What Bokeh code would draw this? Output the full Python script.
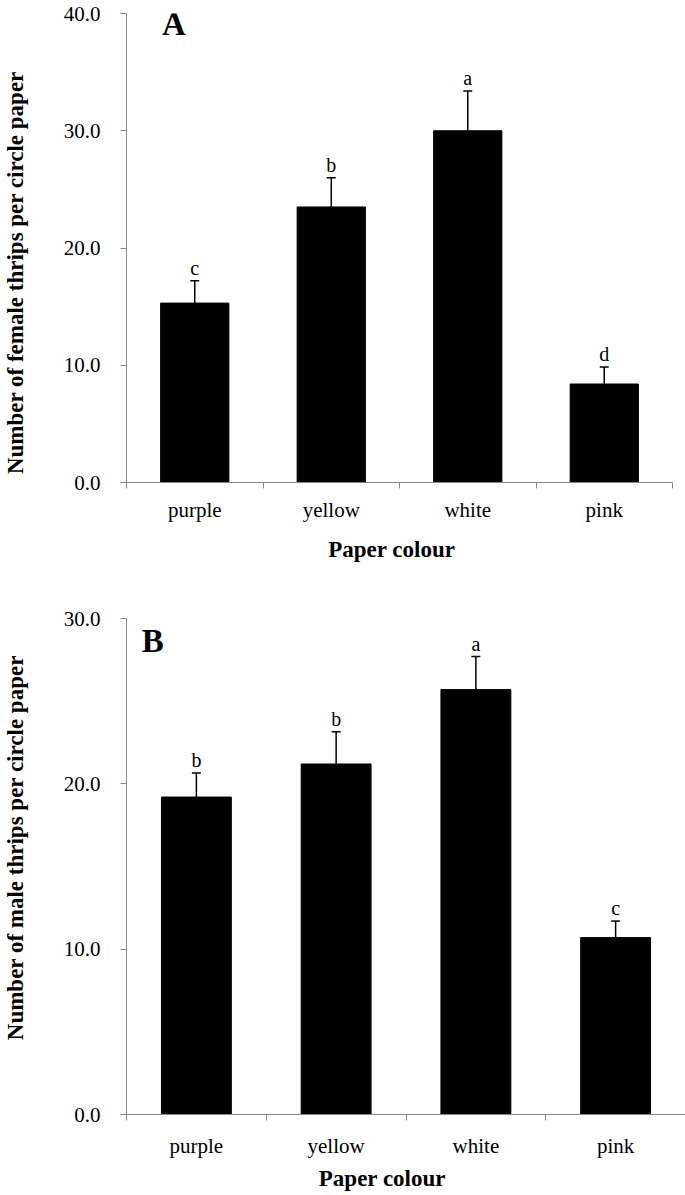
import numpy as np
from bokeh.plotting import figure
from bokeh.models import (Range1d, FixedTicker, NumeralTickFormatter, Whisker,
                          TeeHead, ColumnDataSource, Label, Title, LinearAxis)
from bokeh.layouts import column
from bokeh.core.properties import value
from bokeh.embed import file_html
from bokeh.resources import INLINE

# ---- data ----
categories = ["purple", "yellow", "white", "pink"]

female_means = [15.3, 23.5, 30.0, 8.4]
female_se = [1.9, 2.5, 3.4, 1.45]
female_letters = ["c", "b", "a", "d"]

male_means = [19.2, 21.2, 25.7, 10.7]
male_se = [1.45, 1.95, 2.0, 1.0]
male_letters = ["b", "b", "a", "c"]

female_yticks = [0, 10, 20, 30, 40]
male_yticks = [0, 10, 20, 30]

SERIF = "Liberation Serif"
AXIS_GREY = "#868686"


def spacer_axis(size, tick_at):
    """Invisible axis used only to open a gap between an axis and its title."""
    ax = LinearAxis(ticker=FixedTicker(ticks=[tick_at], minor_ticks=[]))
    ax.major_label_overrides = {tick_at: ""}
    ax.major_label_text_font_size = "1px"
    ax.axis_line_color = None
    ax.major_tick_line_color = None
    ax.minor_tick_line_color = None
    ax.major_tick_out = size
    ax.major_tick_in = 0
    ax.minor_tick_out = 0
    ax.minor_tick_in = 0
    ax.major_label_standoff = 0
    return ax


def make_panel(means, se, letters, yticks, ylabel, panel_letter,
               frame_w, frame_h, border_top, border_bottom, border_right,
               xlabel_standoff, ylabel_offset, xlabel_offset, xgap, ygap,
               panel_pos):
    n = len(categories)
    xs = np.arange(n) + 0.5
    upper = [m + s for m, s in zip(means, se)]
    src = ColumnDataSource(dict(x=xs, top=means, upper=upper, letter=letters))

    p = figure(output_backend="svg", toolbar_location=None,
               x_range=Range1d(0, n), y_range=Range1d(0, yticks[-1]),
               frame_width=frame_w, frame_height=frame_h,
               min_border_left=124, min_border_right=border_right,
               min_border_top=border_top, min_border_bottom=border_bottom)
    p.outline_line_color = None
    p.xgrid.visible = False
    p.ygrid.visible = False

    p.vbar(x="x", top="top", bottom=0, width=0.5, source=src,
           fill_color="black", line_color="black")

    wh = Whisker(source=src, base="x", lower="top", upper="upper",
                 line_color="black", line_width=1.5,
                 upper_head=TeeHead(size=9, line_color="black", line_width=1.5),
                 lower_head=None)
    p.add_layout(wh)

    p.text(x="x", y="upper", text="letter", source=src, y_offset=-2,
           text_align="center", text_baseline="bottom",
           text_font=value(SERIF), text_font_size="20px", text_color="black")

    # x axis: labels at bar centres, ticks at category boundaries
    xa = p.xaxis[0]
    xa.ticker = FixedTicker(ticks=list(xs), minor_ticks=list(range(n + 1)))
    xa.major_label_overrides = {float(x): c for x, c in zip(xs, categories)}
    xa.major_tick_line_color = None
    xa.major_tick_out = 0
    xa.major_tick_in = 0
    xa.minor_tick_line_color = AXIS_GREY
    xa.minor_tick_out = 6
    xa.minor_tick_in = 0
    xa.axis_line_color = AXIS_GREY
    xa.major_label_text_font = SERIF
    xa.major_label_text_font_size = "21px"
    xa.major_label_text_color = "black"
    xa.major_label_standoff = xlabel_standoff

    ya = p.yaxis[0]
    ya.ticker = FixedTicker(ticks=yticks, minor_ticks=[])
    ya.formatter = NumeralTickFormatter(format="0.0")
    ya.axis_line_color = AXIS_GREY
    ya.major_tick_line_color = AXIS_GREY
    ya.major_tick_out = 6
    ya.major_tick_in = 0
    ya.minor_tick_line_color = None
    ya.major_label_text_font = SERIF
    ya.major_label_text_font_size = "21px"
    ya.major_label_text_color = "black"
    ya.major_label_standoff = 20

    # y-axis title (outside the tick labels, shifted along the axis)
    p.add_layout(spacer_axis(ygap, float(yticks[0])), "left")
    p.add_layout(Title(text=ylabel, align="left", offset=ylabel_offset,
                       vertical_align="bottom", standoff=0,
                       text_font=SERIF, text_font_style="bold",
                       text_font_size="23px", text_color="black"), "left")

    # x-axis title
    p.add_layout(spacer_axis(xgap, 0.0), "below")
    p.add_layout(Title(text="Paper colour", align="left", offset=xlabel_offset,
                       vertical_align="top", standoff=0,
                       text_font=SERIF, text_font_style="bold",
                       text_font_size="23px", text_color="black"), "below")

    p.add_layout(Label(x=panel_pos[0], y=panel_pos[1], text=panel_letter,
                       text_align="left", text_baseline="bottom",
                       text_font=SERIF, text_font_style="bold",
                       text_font_size="33px", text_color="black"))
    return p


pA = make_panel(female_means, female_se, female_letters, female_yticks,
                "Number of female thrips  per circle paper", "A",
                frame_w=546, frame_h=469, border_top=13, border_bottom=123,
                border_right=15, xlabel_standoff=9,
                ylabel_offset=8.4, xlabel_offset=201.7, xgap=12, ygap=33,
                panel_pos=(0.26, 37.6))

pB = make_panel(male_means, male_se, male_letters, male_yticks,
                "Number of male thrips per circle paper", "B",
                frame_w=559, frame_h=496, border_top=13, border_bottom=81,
                border_right=2, xlabel_standoff=13,
                ylabel_offset=74.3, xlabel_offset=192.3, xgap=5, ygap=33,
                panel_pos=(0.11, 27.54))

layout = column(pA, pB, spacing=0)

with open("out.html", "w") as f:
    f.write(file_html(layout, INLINE))
